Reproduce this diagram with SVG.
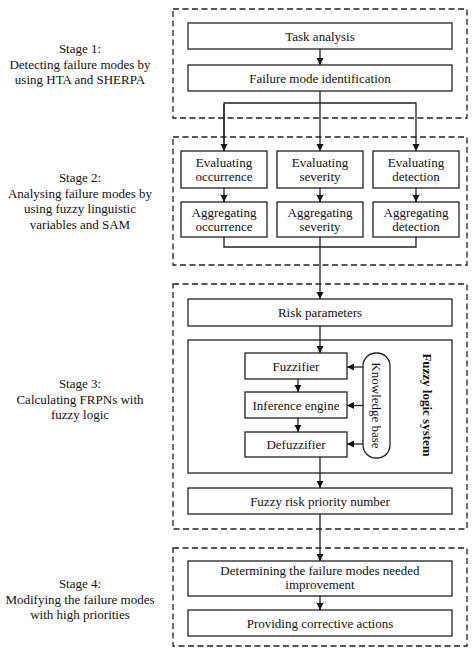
<svg xmlns="http://www.w3.org/2000/svg" width="474" height="656" viewBox="0 0 474 656">
<style>
.bg{fill:#ffffff}
.stage{fill:none;stroke:#222;stroke-width:1.3;stroke-dasharray:6,3.5}
.box{fill:#ffffff;stroke:#222;stroke-width:1.3}
.t{font-family:"Liberation Serif","Times New Roman",serif;font-size:13px;fill:#111;text-anchor:middle}
.b{font-weight:bold}
.c{fill:none;stroke:#222;stroke-width:1.3}
</style>
<defs>
<marker id="ah" markerWidth="8" markerHeight="8" refX="7" refY="4" orient="auto" markerUnits="userSpaceOnUse">
<path d="M0,0.5 L7,4 L0,7.5 Z" fill="#111"/>
</marker>
</defs>
<rect class="bg" x="0" y="0" width="474" height="656"/>

<g id="stage1">
<rect class="stage" x="173" y="9" width="294" height="109"/>
<text class="t" x="80" y="53">Stage 1:</text>
<text class="t" x="80" y="68.5">Detecting failure modes by</text>
<text class="t" x="80" y="84">using HTA and SHERPA</text>
</g>
<g id="stage2">
<rect class="stage" x="173" y="137" width="294" height="128"/>
<text class="t" x="80" y="182">Stage 2:</text>
<text class="t" x="80" y="197.5">Analysing failure modes by</text>
<text class="t" x="80" y="213">using fuzzy linguistic</text>
<text class="t" x="80" y="228.5">variables and SAM</text>
</g>
<g id="stage3">
<rect class="stage" x="173" y="284" width="294" height="245"/>
<text class="t" x="80" y="388">Stage 3:</text>
<text class="t" x="80" y="403.5">Calculating FRPNs with</text>
<text class="t" x="80" y="419">fuzzy logic</text>
</g>
<g id="stage4">
<rect class="stage" x="173" y="548" width="294" height="98"/>
<text class="t" x="80" y="588">Stage 4:</text>
<text class="t" x="80" y="603.5">Modifying the failure modes</text>
<text class="t" x="80" y="619">with high priorities</text>
</g>

<g id="fuzzy-logic-system">
<rect class="box" x="188" y="340" width="264" height="133"/>
<text class="t b" transform="translate(427,405) rotate(90)" y="4.5">Fuzzy logic system</text>
</g>

<g id="task-analysis">
<rect class="box" x="188" y="23" width="264" height="26"/>
<text class="t" x="320" y="40.5">Task analysis</text>
</g>
<g id="failure-mode-identification">
<rect class="box" x="188" y="65" width="264" height="26"/>
<text class="t" x="320" y="82.5">Failure mode identification</text>
</g>
<g id="eval-occurrence">
<rect class="box" x="181" y="151" width="86" height="37"/>
<text class="t" x="224" y="166.5">Evaluating</text>
<text class="t" x="224" y="180.5">occurrence</text>
</g>
<g id="eval-severity">
<rect class="box" x="277" y="151" width="86" height="37"/>
<text class="t" x="320" y="166.5">Evaluating</text>
<text class="t" x="320" y="180.5">severity</text>
</g>
<g id="eval-detection">
<rect class="box" x="373" y="151" width="86" height="37"/>
<text class="t" x="416" y="166.5">Evaluating</text>
<text class="t" x="416" y="180.5">detection</text>
</g>
<g id="agg-occurrence">
<rect class="box" x="181" y="202" width="86" height="35"/>
<text class="t" x="224" y="216.5">Aggregating</text>
<text class="t" x="224" y="230.5">occurrence</text>
</g>
<g id="agg-severity">
<rect class="box" x="277" y="202" width="86" height="35"/>
<text class="t" x="320" y="216.5">Aggregating</text>
<text class="t" x="320" y="230.5">severity</text>
</g>
<g id="agg-detection">
<rect class="box" x="373" y="202" width="86" height="35"/>
<text class="t" x="416" y="216.5">Aggregating</text>
<text class="t" x="416" y="230.5">detection</text>
</g>
<g id="risk-parameters">
<rect class="box" x="188" y="299" width="264" height="27"/>
<text class="t" x="320" y="317">Risk parameters</text>
</g>
<g id="fuzzifier">
<rect class="box" x="245" y="353" width="102" height="26"/>
<text class="t" x="296" y="370.5">Fuzzifier</text>
</g>
<g id="inference-engine">
<rect class="box" x="245" y="392" width="102" height="26"/>
<text class="t" x="296" y="409.5">Inference engine</text>
</g>
<g id="defuzzifier">
<rect class="box" x="245" y="432" width="102" height="25"/>
<text class="t" x="296" y="449">Defuzzifier</text>
</g>
<g id="knowledge-base">
<rect class="box" x="363" y="353" width="27" height="105" rx="13" ry="13"/>
<text class="t" transform="translate(376.5,405.5) rotate(90)" y="4.5">Knowledge base</text>
</g>
<g id="fuzzy-risk-priority-number">
<rect class="box" x="188" y="488" width="264" height="26"/>
<text class="t" x="320" y="505.5">Fuzzy risk priority number</text>
</g>
<g id="determining">
<rect class="box" x="188" y="561" width="264" height="35"/>
<text class="t" x="320" y="575">Determining the failure modes needed</text>
<text class="t" x="320" y="589">improvement</text>
</g>
<g id="providing">
<rect class="box" x="188" y="610" width="264" height="26"/>
<text class="t" x="320" y="627.5">Providing corrective actions</text>
</g>

<g id="connectors">
<line class="c" x1="320" y1="49" x2="320" y2="65" marker-end="url(#ah)"/>
<line class="c" x1="320" y1="91" x2="320" y2="151" marker-end="url(#ah)"/>
<polyline class="c" points="224,151 224,103 416,103 416,151" marker-end="url(#ah)"/>
<line class="c" x1="224" y1="104" x2="224" y2="151" marker-end="url(#ah)"/>
<line class="c" x1="224" y1="188" x2="224" y2="202" marker-end="url(#ah)"/>
<line class="c" x1="320" y1="188" x2="320" y2="202" marker-end="url(#ah)"/>
<line class="c" x1="416" y1="188" x2="416" y2="202" marker-end="url(#ah)"/>
<polyline class="c" points="224,237 224,247 416,247 416,237"/>
<line class="c" x1="320" y1="237" x2="320" y2="299" marker-end="url(#ah)"/>
<line class="c" x1="320" y1="326" x2="320" y2="353" marker-end="url(#ah)"/>
<line class="c" x1="298" y1="379" x2="298" y2="392" marker-end="url(#ah)"/>
<line class="c" x1="298" y1="418" x2="298" y2="432" marker-end="url(#ah)"/>
<line class="c" x1="363" y1="367" x2="347" y2="367" marker-end="url(#ah)"/>
<line class="c" x1="363" y1="405.5" x2="347" y2="405.5" marker-end="url(#ah)"/>
<line class="c" x1="363" y1="444" x2="347" y2="444" marker-end="url(#ah)"/>
<line class="c" x1="320" y1="457" x2="320" y2="488" marker-end="url(#ah)"/>
<line class="c" x1="320" y1="514" x2="320" y2="561" marker-end="url(#ah)"/>
<line class="c" x1="320" y1="596" x2="320" y2="610" marker-end="url(#ah)"/>
</g>
</svg>
